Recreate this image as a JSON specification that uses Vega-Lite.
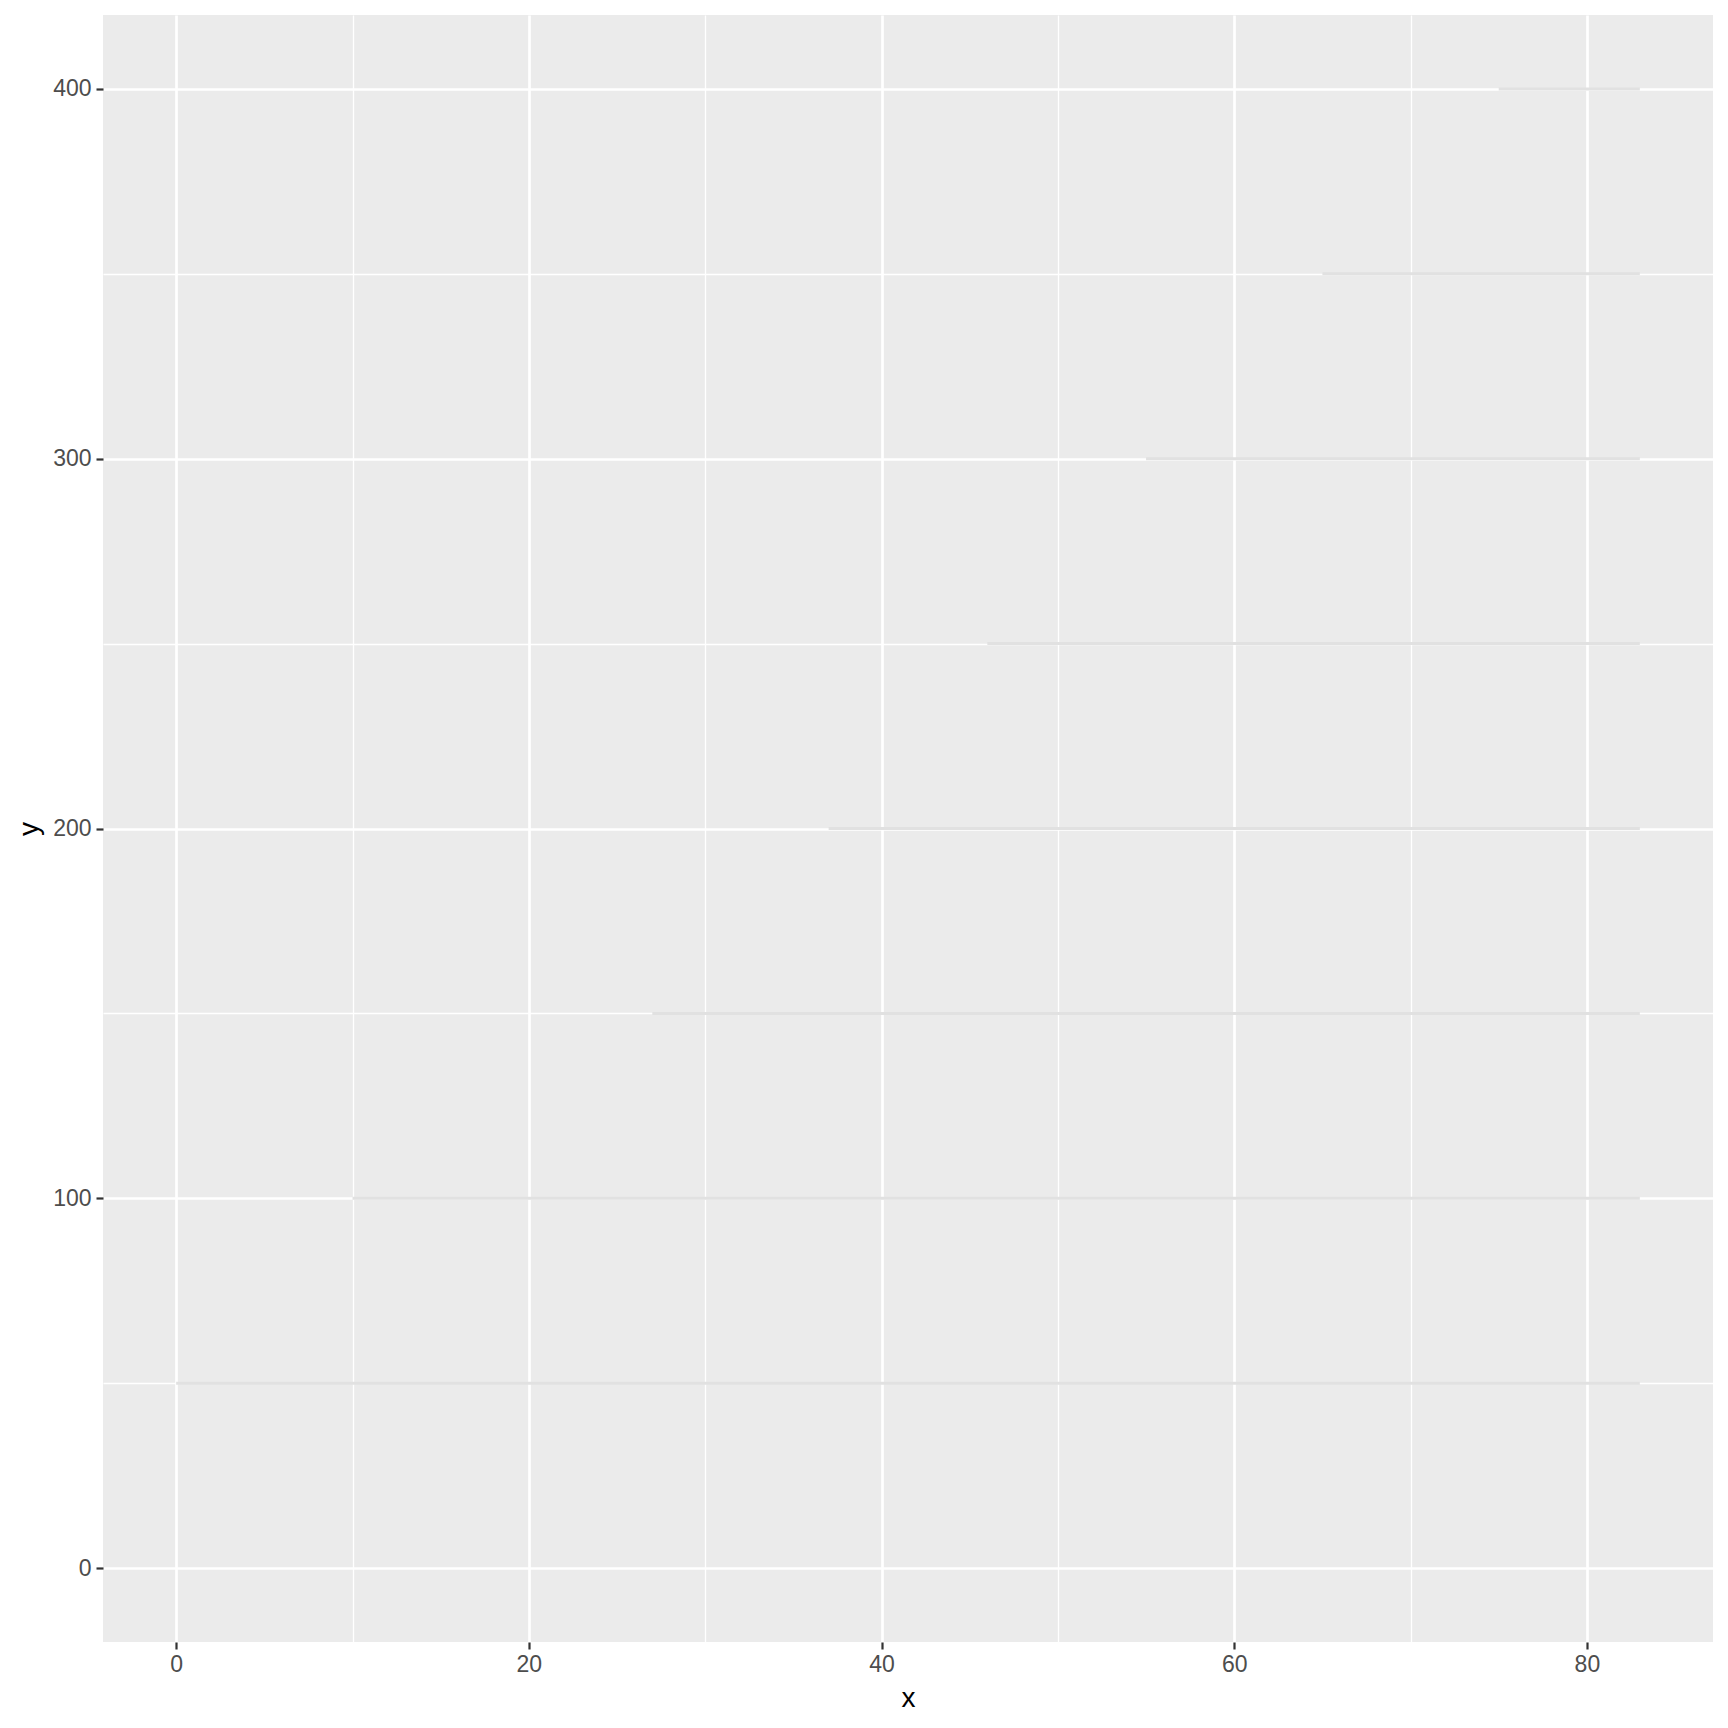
{
  "$schema": "https://vega.github.io/schema/vega-lite/v6.json",
  "width": 1610,
  "height": 1627,
  "autosize": "none",
  "padding": {"left": 103, "top": 15, "right": 15, "bottom": 86},
  "background": "white",
  "data": {
    "values": [
      {"x": 0, "xend": 83, "y": 50},
      {"x": 10, "xend": 83, "y": 100},
      {"x": 27, "xend": 83, "y": 150},
      {"x": 37, "xend": 83, "y": 200},
      {"x": 46, "xend": 83, "y": 250},
      {"x": 55, "xend": 83, "y": 300},
      {"x": 65, "xend": 83, "y": 350},
      {"x": 75, "xend": 83, "y": 400}
    ]
  },
  "resolve": {"axis": {"x": "independent", "y": "independent"}},
  "layer": [
    {
      "mark": {"type": "rule", "opacity": 0},
      "encoding": {
        "x": {
          "field": "x", "type": "quantitative",
          "scale": {"domain": [-4.15, 87.15], "nice": false, "zero": false},
          "axis": {
            "orient": "bottom", "values": [10, 30, 50, 70], "grid": true,
            "gridColor": "white", "gridWidth": 1.35,
            "domain": false, "ticks": false, "labels": false, "title": null
          }
        },
        "x2": {"field": "xend"},
        "y": {
          "field": "y", "type": "quantitative",
          "scale": {"domain": [-20, 420], "nice": false, "zero": false},
          "axis": {
            "orient": "left", "values": [50, 150, 250, 350], "grid": true,
            "gridColor": "white", "gridWidth": 1.35,
            "domain": false, "ticks": false, "labels": false, "title": null
          }
        }
      }
    },
    {
      "mark": {"type": "rule", "color": "#E1E1E1", "strokeWidth": 3, "strokeCap": "butt"},
      "encoding": {
        "x": {
          "field": "x", "type": "quantitative",
          "axis": {
            "orient": "bottom", "values": [0, 20, 40, 60, 80], "grid": true,
            "gridColor": "white", "gridWidth": 2.7,
            "domain": false, "tickColor": "#333333", "tickSize": 7, "tickWidth": 2.2,
            "labelColor": "#4D4D4D", "labelFontSize": 23, "labelPadding": 4,
            "labelFont": "Liberation Sans",
            "title": "x", "titleFont": "Liberation Sans", "titleFontSize": 28,
            "titleFontWeight": "normal", "titleColor": "black", "titlePadding": 8
          }
        },
        "x2": {"field": "xend"},
        "y": {
          "field": "y", "type": "quantitative",
          "axis": {
            "orient": "left", "values": [0, 100, 200, 300, 400], "grid": true,
            "gridColor": "white", "gridWidth": 2.7,
            "domain": false, "tickColor": "#333333", "tickSize": 7, "tickWidth": 2.2,
            "labelColor": "#4D4D4D", "labelFontSize": 23, "labelPadding": 5,
            "labelFont": "Liberation Sans",
            "title": "y", "titleFont": "Liberation Sans", "titleFontSize": 28,
            "titleFontWeight": "normal", "titleColor": "black", "titlePadding": 9
          }
        }
      }
    }
  ],
  "config": {
    "view": {"fill": "#EBEBEB", "stroke": null}
  }
}
